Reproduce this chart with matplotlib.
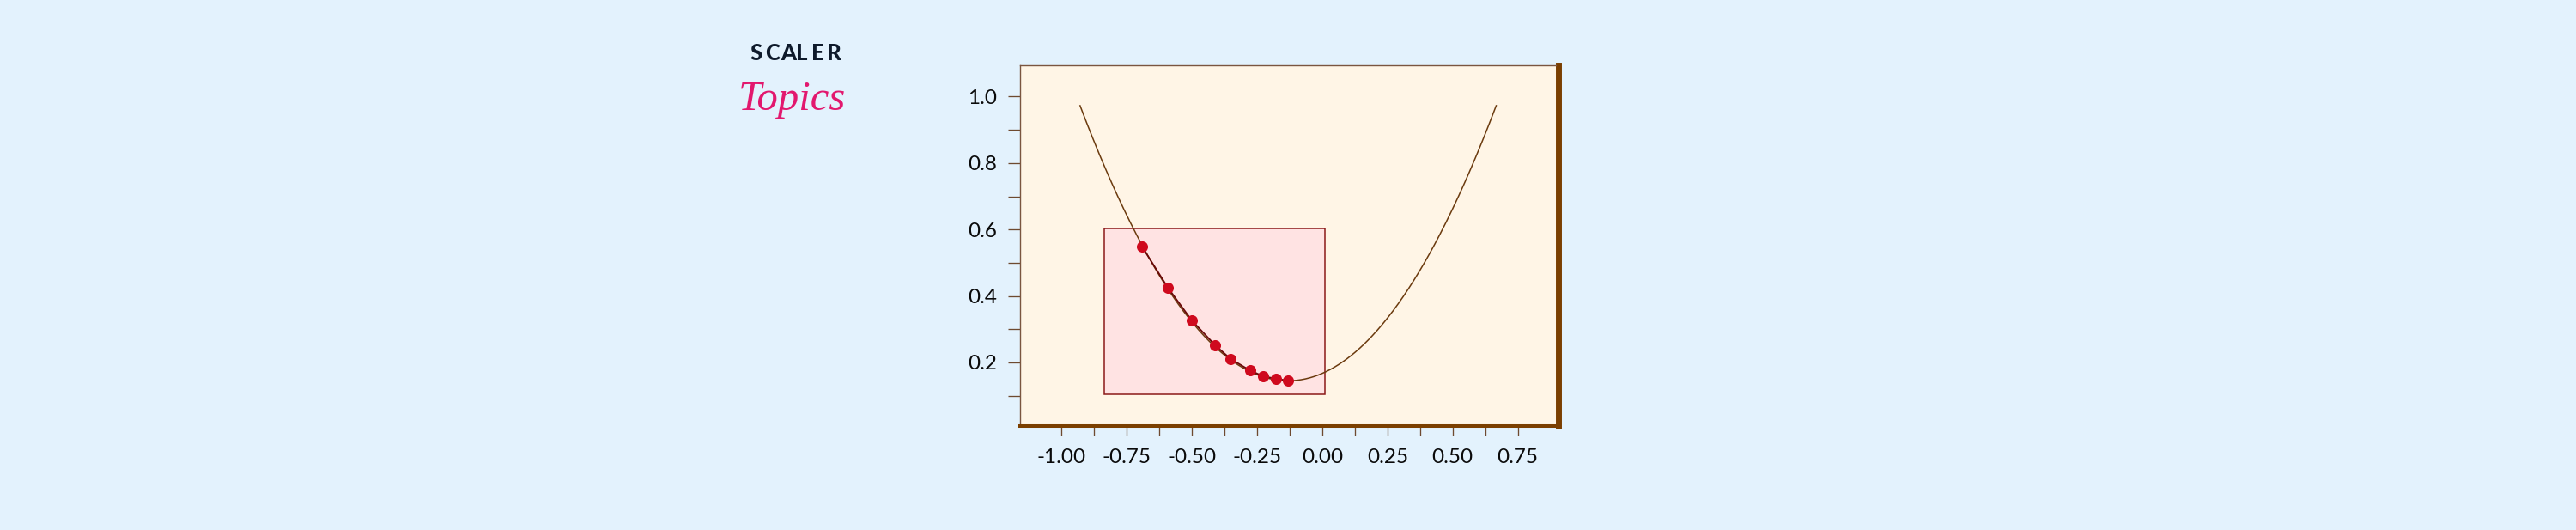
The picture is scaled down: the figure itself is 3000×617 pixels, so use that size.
import numpy as np
import matplotlib
matplotlib.use('Agg')
import matplotlib.pyplot as plt
from matplotlib.patches import Rectangle

plt.rcParams['font.family'] = ['Lato', 'DejaVu Sans']
plt.rcParams['axes.unicode_minus'] = False

# function being minimised: y = curv * (x - x_min)^2 + y_min
x_min, y_min, curv = -0.131, 0.145, 1.30
x_start, x_end = -0.929, 0.667

# gradient descent steps
step_x = [-0.691, -0.592, -0.501, -0.411, -0.352, -0.277, -0.227, -0.178, -0.1325]
step_y = [0.548, 0.425, 0.327, 0.252, 0.211, 0.176, 0.159, 0.151, 0.146]

# highlighted region
box_x0, box_x1 = -0.837, 0.01
box_y0, box_y1 = 0.105, 0.604

x_major = [-1.0, -0.75, -0.5, -0.25, 0.0, 0.25, 0.5, 0.75]
x_minor = [-0.875, -0.625, -0.375, -0.125, 0.125, 0.375, 0.625]
x_labels = ['-1.00', '-0.75', '-0.50', '-0.25', '0.00', '0.25', '0.50', '0.75']
y_major = [0.2, 0.4, 0.6, 0.8, 1.0]
y_minor = [0.1, 0.3, 0.5, 0.7, 0.9]
y_labels = ['0.2', '0.4', '0.6', '0.8', '1.0']

bg = '#E3F2FD'
fig = plt.figure(figsize=(30, 6.17), dpi=100, facecolor=bg)
ax = fig.add_axes([0.3959, 0.1969, 0.2081, 0.6804])
ax.set_facecolor('#FFF5E6')

ax.add_patch(Rectangle((box_x0, box_y0), box_x1 - box_x0, box_y1 - box_y0,
                       facecolor='#FFE3E3', edgecolor='#8B1A1A', linewidth=1.1, zorder=1))

xs = np.linspace(x_start, x_end, 400)
ax.plot(xs, curv * (xs - x_min) ** 2 + y_min, color='#6B3A0E', linewidth=1.1, zorder=2)
ax.plot(step_x, step_y, color='#6A0808', linewidth=1.3, zorder=3)
ax.plot(step_x, step_y, 'o', color='#CF0A1E', markersize=9.4, markeredgewidth=0, zorder=4)

ax.set_xlim(-1.16, 0.896)
ax.set_ylim(0.010, 1.095)

ax.set_xticks(x_major)
ax.set_xticks(x_minor, minor=True)
ax.set_xticklabels(x_labels)
ax.set_yticks(y_major)
ax.set_yticks(y_minor, minor=True)
ax.set_yticklabels(y_labels)

tick_col = '#6E4A30'
ax.tick_params(axis='y', which='both', direction='out', length=9.9, width=0.95,
               color=tick_col, labelsize=17.5, labelcolor='#0A0A0A', pad=9)
ax.tick_params(axis='x', which='both', direction='out', length=7.9, width=0.95,
               color=tick_col, labelsize=17.5, labelcolor='#0A0A0A', pad=11.5)

for s in ['left', 'top']:
    ax.spines[s].set_color('#7A5540')
    ax.spines[s].set_linewidth(1.0)
ax.spines['bottom'].set_color('#7B3F00')
ax.spines['bottom'].set_linewidth(2.9)
ax.spines['right'].set_color('#7B3F00')
ax.spines['right'].set_linewidth(5.0)
ax.spines['right'].set_position(('outward', 2.5))

# logo
letters = 'SCALER'
for i, ch in enumerate(letters):
    fig.text((873 + i * 18.0) / 3000, 0.8865, ch, fontsize=18.5, fontweight='black',
             color='#0E1A2B', ha='left', va='baseline')
fig.text(0.3075, 0.7925, 'Topics', fontsize=35, style='italic',
         family=['Liberation Serif', 'DejaVu Serif'], color='#E2186E',
         ha='center', va='baseline')

fig.savefig('out.png', dpi=100, facecolor=bg)
